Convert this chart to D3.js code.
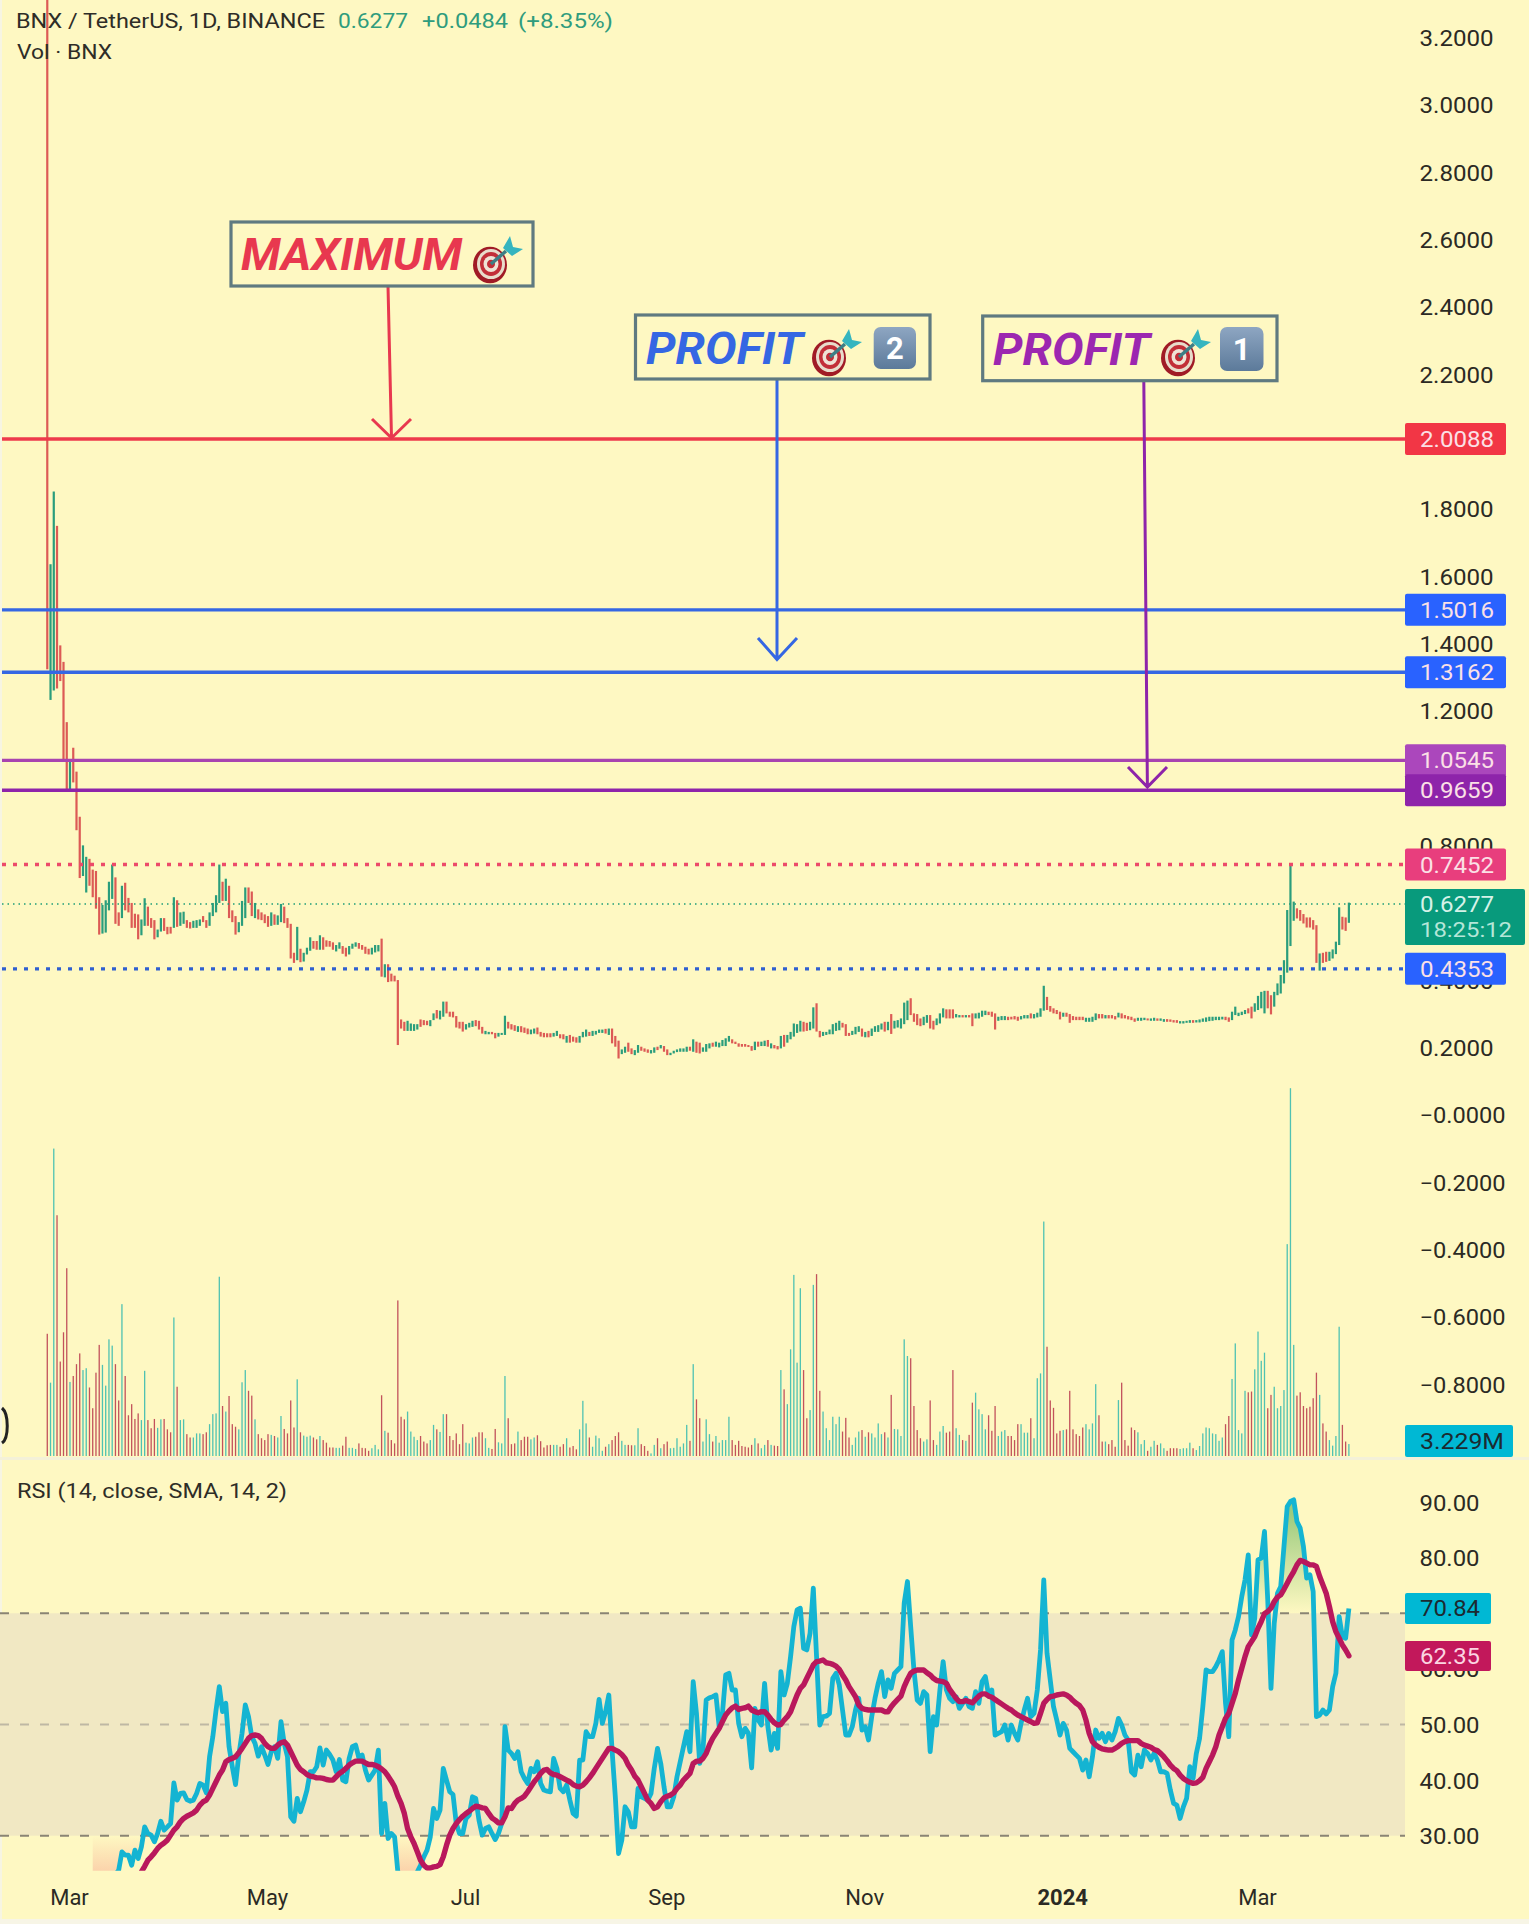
<!DOCTYPE html>
<html><head><meta charset="utf-8">
<script src="https://cdn.jsdelivr.net/npm/d3@7/dist/d3.min.js"></script>
<style>html,body{margin:0;padding:0;background:#fef8c2}svg{display:block}text{font-family:Roboto,sans-serif}</style>
</head><body><svg id="c" width="1529" height="1924"></svg>
<script>
// ---- data ----
const firstDay = "2023-02-22";
const candleSides = ("rggrrrrgrr rggrrrrggg grrgrrrrrg grrrggrrrg rggrrgggrr ggggrgrrrg ggrrgrrrrg rggrrrrgrg ggrrgrrrrg grrgggrrrr " +
"gggrgrrrrr rggggrrrgg rggrrrrrrg ggrrrggrrg ggrrrgrrrg grrrrrggrr grrrgggrgg ggrgrrrggr rggrrrggrg rrggggggrg " +
"rrgggrgggg grrrrrrrgr ggrgrrgrgg gggrrggrrg gggggrrrgg grgrggggrg rgggggrrrr ggrrgggrrr ggrgrrgggg rrrgggrrrr " +
"gggrggggrr rrrgrrrrrr ggggrrgrrr grrrrrgggr ggrggrrrrg gggrgggggg gggrrggggg rrggggrrgg gggggrrrrr rrgrrggggr rg").replace(/ /g,"").split("");
const candleHigh = [
3.32,1.637,1.853,1.751,1.396,1.347,1.168,1.052,1.092,1.021,
.887,.802,.768,.762,.730,.726,.648,.625,.639,.694,
.745,.707,.603,.682,.691,.646,.631,.599,.597,.582,
.645,.620,.586,.580,.552,.586,.586,.560,.560,.648,
.639,.603,.605,.580,.574,.578,.580,.582,.592,.580,
.603,.631,.654,.745,.694,.703,.682,.609,.592,.574,
.637,.677,.677,.665,.631,.612,.603,.597,.592,.603,
.597,.594,.628,.620,.586,.569,.483,.560,.495,.483,
.498,.529,.518,.518,.535,.529,.520,.518,.514,.506,
.514,.503,.498,.503,.510,.514,.512,.506,.501,.495,
.498,.506,.506,.525,.449,.449,.421,.415,.402,.285,
.278,.281,.273,.271,.271,.285,.283,.281,.283,.303,
.313,.311,.338,.338,.308,.308,.295,.278,.278,.271,
.275,.281,.283,.281,.263,.251,.248,.248,.245,.245,
.245,.296,.278,.271,.268,.265,.265,.261,.258,.255,
.258,.261,.248,.245,.244,.244,.245,.251,.241,.241,
.236,.239,.234,.232,.236,.248,.255,.248,.251,.251,
.255,.255,.257,.258,.258,.236,.222,.196,.204,.216,
.199,.194,.209,.204,.199,.196,.194,.202,.204,.209,
.206,.196,.186,.192,.196,.199,.199,.204,.204,.226,
.219,.216,.202,.212,.214,.216,.219,.216,.224,.229,
.236,.226,.219,.214,.212,.212,.209,.206,.219,.219,
.219,.222,.224,.214,.209,.206,.236,.239,.239,.248,
.273,.271,.281,.278,.275,.278,.321,.333,.251,.248,
.248,.255,.271,.275,.281,.275,.271,.245,.251,.263,
.265,.258,.248,.251,.258,.265,.268,.273,.278,.278,
.301,.281,.283,.288,.335,.341,.348,.303,.301,.288,
.293,.298,.298,.281,.288,.303,.318,.315,.315,.315,
.301,.298,.298,.298,.298,.303,.303,.305,.311,.311,
.308,.308,.303,.293,.295,.295,.293,.293,.295,.293,
.295,.298,.298,.303,.301,.305,.318,.385,.352,.325,
.318,.313,.308,.305,.305,.301,.295,.293,.293,.293,
.290,.290,.293,.303,.301,.301,.298,.298,.298,.295,
.305,.303,.298,.295,.293,.288,.290,.290,.290,.288,
.288,.290,.288,.288,.286,.286,.285,.283,.283,.280,
.280,.281,.283,.283,.283,.285,.288,.291,.293,.293,
.293,.293,.293,.293,.291,.308,.323,.305,.308,.313,
.318,.323,.333,.355,.367,.370,.370,.357,.367,.392,
.417,.461,.610,.7452,.635,.615,.610,.598,.588,.588,
.580,.565,.481,.483,.486,.486,.493,.516,.618,.590,
.588,.632];
const candleLow = [
1.325,1.234,1.262,1.268,1.290,1.052,.967,.967,.989,.847,
.705,.711,.662,.682,.648,.614,.537,.540,.543,.609,
.643,.569,.563,.586,.609,.603,.557,.557,.523,.535,
.563,.563,.557,.523,.529,.546,.548,.538,.540,.557,
.560,.563,.569,.557,.555,.557,.557,.563,.574,.557,
.563,.592,.603,.631,.637,.637,.586,.574,.537,.544,
.563,.586,.631,.592,.586,.582,.580,.571,.560,.563,
.566,.566,.574,.571,.557,.466,.453,.461,.455,.457,
.478,.489,.495,.492,.492,.492,.501,.501,.492,.487,
.495,.480,.472,.478,.495,.501,.495,.492,.480,.478,
.478,.484,.487,.412,.410,.396,.398,.398,.209,.258,
.251,.251,.251,.251,.255,.263,.268,.268,.265,.283,
.288,.285,.293,.303,.293,.291,.261,.258,.249,.255,
.261,.263,.265,.255,.243,.241,.241,.241,.229,.234,
.239,.239,.258,.255,.251,.248,.247,.245,.241,.241,
.243,.241,.234,.232,.232,.232,.234,.236,.229,.226,
.216,.216,.219,.216,.216,.232,.234,.236,.236,.240,
.245,.245,.243,.239,.214,.204,.169,.182,.186,.189,
.182,.179,.186,.192,.189,.186,.184,.186,.194,.199,
.189,.179,.179,.184,.188,.189,.189,.189,.192,.189,
.186,.184,.189,.189,.199,.204,.204,.202,.206,.206,
.219,.214,.212,.204,.204,.204,.204,.192,.194,.204,
.206,.206,.204,.199,.199,.196,.199,.204,.216,.226,
.234,.245,.249,.249,.251,.253,.258,.249,.232,.236,
.239,.241,.241,.251,.253,.261,.236,.236,.239,.241,
.248,.234,.232,.232,.236,.248,.248,.255,.249,.253,
.242,.258,.261,.258,.271,.283,.298,.278,.268,.265,
.268,.275,.258,.255,.268,.273,.291,.288,.288,.288,
.291,.291,.291,.291,.291,.265,.288,.288,.293,.298,
.298,.293,.255,.281,.283,.283,.283,.285,.285,.281,
.285,.288,.288,.288,.288,.291,.293,.311,.313,.308,
.303,.301,.285,.293,.293,.275,.283,.283,.283,.283,
.278,.278,.278,.283,.288,.288,.288,.288,.288,.285,
.291,.288,.288,.285,.283,.278,.281,.281,.283,.283,
.281,.281,.281,.281,.278,.278,.278,.276,.275,.273,
.273,.275,.275,.275,.276,.276,.278,.278,.280,.281,
.283,.283,.285,.283,.278,.283,.298,.295,.298,.301,
.303,.288,.308,.313,.318,.303,.318,.300,.323,.357,
.362,.392,.424,.503,.578,.585,.578,.570,.558,.558,
.552,.453,.430,.453,.456,.459,.466,.479,.506,.552,
.548,.572];
const volumeM = [
33,19.8,83,65,25.5,33.4,50.7,20,21.6,24.8,
27.7,23.2,23.7,18.5,12.9,22.5,30,24.6,19,31.5,
29.8,24.8,15,41,21.6,11,14,10,11.5,9.7,
23,9.7,7.5,10,7.6,9.9,10,7.2,6.4,37.4,
18.7,9.7,9.9,5.9,5,5,6.1,6.1,5.9,6.4,
8.6,11.3,11.5,48.4,13.5,12,16.2,8.6,7.9,7.2,
19.9,23.2,17.6,16.3,9.9,5.9,4.8,4.3,5.9,5.7,
5.4,5,10.8,7.3,6.1,15,7.7,20.7,6.4,5.5,
5.2,5.5,5,4.5,5.4,4.3,3.6,2.3,2.3,2.2,
2.2,2.8,5.2,2.2,2.2,1.9,3.4,2.2,2.1,1.4,
2.1,3,1.8,16.4,6.8,6.3,4.3,3.4,42,10.6,
9.9,12,6.6,5.2,4.3,5.4,3.9,3.4,4.3,8.4,
7.2,6.5,11.3,11.3,5.4,4.3,6.1,3.2,8.6,3.6,
3.4,5,5.2,6.4,6.4,4.8,2.2,1.9,7.3,3.7,
3.4,21.6,10.2,3.2,3.4,6.6,4.3,5.2,5.2,4.5,
5,5.6,4,2.3,2.9,3,3,3,2.5,3.2,
4.8,2.3,2.7,1.8,7.2,14.9,8.8,5,2.5,5.5,
4.8,1.4,2.5,3.2,4.3,5.4,6.4,4.1,3,3,
2.9,2.9,7.5,3.2,2.7,1.4,.7,3,4.8,2.1,
3.2,3.9,2.1,2.2,4.8,2.5,3.4,8.4,4.1,24.8,
15.3,10.2,3.9,9.9,5.9,3.9,5.4,3.6,4.3,4.3,
10.6,4.3,3,4.1,2.7,2.5,2.3,3,4.8,3.4,
2.1,3,4.3,3,2.8,2.7,23.2,18,14,28.8,
48.9,25.2,45.3,23.2,10.2,12.4,46.2,49.1,17.6,12,
7.5,4.3,10.6,8.6,10.6,6.6,10.3,5,3,5,
6.6,7,5.2,6.4,6.1,5,8.8,5.9,6.4,5,
16.5,7.3,7.2,5.4,31.5,27,26.4,13.5,7,4.8,
3.9,4.5,15,4.3,3,6.6,8.1,6.3,6.6,23.2,
7.5,5.7,4.3,4.1,5.7,14.4,17.1,12.6,11.3,7.2,
11,6.8,13.5,5.4,6.6,7,5.4,5.4,4.3,8.6,
8.6,6.3,6.3,10.2,4.8,21,22.3,63.3,29.5,15,
13,6.1,6.8,7,7.2,17.6,7.2,5.9,5.4,7.7,
8.6,7.2,8.8,19.4,11,3.9,3.9,3.2,4.3,2.5,
15.1,19.8,4.3,2.8,7.7,7,6.4,3.2,4.3,1.4,
2.5,4.1,3,3.4,2.1,1.4,2.1,2.1,2.1,1.9,
2.1,2.1,3.6,2.1,1.6,2.7,6.1,7.7,7.5,6.1,
5.9,4.1,5,8.6,10.8,20.8,30.4,7,6.1,17.6,
17.2,17.4,23.4,33.6,25.7,27.9,12.9,16.5,18.7,12.9,
13.5,17.8,57.2,99.3,30,16.3,17.2,13.5,12.9,13.3,
15.6,22.5,16.5,8.8,6.6,4.3,2.8,5.4,34.9,8.4,
3.9,3.229];
const rsiStart = 14;
const rsiValues = [
22,21,20,21,20,21,
22,23,23.8,27.1,26.5,26.5,24.7,27.4,25.9,28,
31.6,30.4,30.1,28.9,30.4,32.6,31,31.6,32.2,39.5,
36.4,37.6,37.7,36.5,36.2,36.4,37.6,39.4,39.1,37.7,
44.2,47.8,52.6,56.8,52.3,53.8,46,42.4,39.2,44.5,
48.4,53.5,51.4,47.8,46.6,44.3,46,44.5,42.8,45.1,
46,43.9,50.5,46.6,44.2,33.4,32.6,36.7,34.3,36.1,
38.2,41.5,41.5,42.4,45.8,42.7,45.4,44.6,43.6,41.5,
43.7,40,39.7,43.9,46,46.3,44,44.5,41.8,40,
40.9,41.8,45.4,30.4,35.8,29.5,30.4,29.8,23.5,21.5,
20.5,21,22,22.5,23.5,24.7,26.2,27.4,29.8,34.9,
33.1,34.6,42.1,40,37.9,37.4,32.2,30.4,30.4,33.1,
33.7,37,36.7,32.8,30.1,31.3,31.6,30.4,29.3,30.4,
32.2,49.6,45.4,44.8,43.9,45.1,41.5,40.3,39.4,42.1,
41.5,43.3,39.4,38.2,38,37.9,43.9,42.1,38.5,37.9,
39.1,36.4,34,33.5,43.6,43.6,48.7,47.8,47.8,50.2,
54.5,50.2,52.3,55.3,45.4,37,26.8,29.2,35.2,34.3,
31.6,31.6,38.5,37,36.7,36.4,37.6,42.1,45.7,43,
38.8,35.2,35.2,37,40.6,43.3,46,48.7,45.1,57.7,
52,43,45.4,54.4,54.8,55,55.3,49.6,52,58.9,
59.2,56.2,56.2,50.2,47.8,49.3,48.4,42.2,52.9,50.8,
49.9,57.4,49.6,45.4,48.4,45.7,59.5,55.3,57.4,62.2,
67.6,70.6,70.9,63.7,63.4,66.4,74.5,62.2,49.9,51.4,
51.5,52,58.3,59.2,57.1,52.6,48.1,48.1,49.6,52.6,
54.7,49,49.6,47.2,51.4,54.7,57.4,59.5,55,58,
56.5,59.2,59.8,60.4,71.8,75.7,67.6,59.8,54.4,53.8,
55.9,55.3,45.1,51.4,49.9,56.2,61.3,56.2,54.7,54.1,
55,52.9,53.8,54.7,53.2,52.9,55.9,53.8,57.7,58.6,
55.3,56.2,48.1,48.4,48.7,49.9,47.2,49.9,48.4,47.2,
50.2,52.6,54.7,51.4,52,56.2,63.4,76,62.8,58,
53.2,50.8,48.1,50.2,49,45.7,45.1,44.5,43.9,41.8,
43.6,40.6,44.2,49,47.5,48.4,46.9,48.4,47.2,48.7,
51.1,49.9,48.1,47.2,41.5,40.9,44.5,42.4,45.4,44.8,
43.6,44.8,43.6,41.5,41.5,41.2,38.2,35.8,35.5,33.1,
35.2,36.7,42.4,40.3,44.8,47.5,53.2,59.8,59.5,59.5,
60.4,61.6,63.1,53.8,47.8,65.2,67,69.4,73,76,
80.5,66.1,69.1,79.6,79.9,84.7,72.4,56.5,68.2,73.6,
74.8,82,89.2,90.1,90.4,86.5,85.3,82,76.3,76.9,
73.9,51.4,51.7,52.6,51.9,52.6,56.8,59.2,69.4,65.8,
65.5,70.84];
const maStart = 27;
const rsiMaValues = [
22,22.3,23.5,
24.5,25.6,26.2,26.9,27.7,28.3,28.7,29.2,30.1,31,
31.6,32.5,33.1,33.5,33.8,34.1,34.6,35.5,36.1,36.4,
37.3,38.5,39.7,40.9,41.8,43.3,43.7,43.9,44.2,44.9,
45.7,46.6,47.5,48,48.1,48,47.5,46.6,46,45.7,
45.7,46.3,46.7,46.9,46.3,45.1,43.9,42.7,41.9,41.5,
41,40.7,40.6,40.4,40.4,40.3,40.1,40,40,40.6,
41.2,41.6,42.1,42.7,43.1,43.4,43.4,43.4,43.1,42.8,
42.8,42.7,42.4,42,41.5,40.7,39.8,38.8,37.1,35.8,
34,31.3,29.8,28.6,27.1,25.6,24.7,24.2,24.2,24.4,
24.5,24.8,26.2,28.3,30.1,31.3,32.2,32.9,33.5,34,
34.4,34.9,35.3,35.2,35,34.9,34,33.2,32.8,32.3,
32.3,33.4,35,34.9,35.8,36.4,36.7,37.1,37.9,38.8,
39.7,40.4,41.2,41.8,41.9,41.3,41,40.9,40.6,40.3,
40,39.7,39.2,38.9,38.8,39.1,39.7,40.4,41.2,42.1,
43,43.9,44.8,45.7,45.7,45.4,45.1,44.6,43.9,42.7,
41.8,40.7,40,38.8,37.6,36.4,35.8,34.9,35.2,36.1,
36.8,37.1,37.3,37.7,38.5,39.1,40,40.6,41.2,43,
43.4,43.4,43.9,44.8,46.3,47.5,48.4,49.3,50.5,51.7,
52.4,53,53.3,52.7,52.9,53,53.3,52.6,52.3,52.1,
52.3,52.3,51.7,50.9,50.3,49.9,50,50.8,51.4,52.3,
53.8,55.3,56.5,57.1,58.3,59.5,60.7,61.3,61.4,61.6,
61.1,61,60.8,60.5,59.9,58.9,58,56.8,55.9,55,
53.5,52.9,52.7,52.6,52.6,52.6,52.6,52.6,52.3,52.3,
53.2,53.9,54.5,55.1,56.8,58.1,59.2,59.6,59.8,59.8,
59.8,59.3,58.9,58.3,57.9,57.8,57.7,57.4,56.3,55.5,
54.7,54.1,54.1,54.3,54.1,53.9,54.5,55.1,55.5,55.5,
55.1,54.9,54.5,54.1,53.7,53.3,52.9,52.6,52.1,51.7,
51.4,51.1,50.8,50.5,50.2,50.3,52,53.8,54.5,55,
55.1,55.3,55.4,55.5,55.3,54.9,54.3,53.8,53.4,52.6,
50.8,48.4,46.9,46.3,45.9,45.6,45.5,45.4,45.4,45.7,
46.1,46.6,46.9,47.1,47.1,47.1,47.1,46.6,46.3,46.1,
45.9,45.5,45.3,44.8,44.2,43.5,42.7,42.1,41.7,40.9,
40.3,39.9,39.6,39.4,39.5,39.9,40.5,42.1,43.3,44.5,
46,48.1,49.6,51.1,52,53.8,55.6,58,60.1,62.2,
64,64.9,65.8,67.3,68.5,69.9,70.3,70.9,72.1,72.9,
73.3,74.3,75.4,76.5,77.5,78.7,79.5,79.3,79,78.7,
78.7,78.4,76.6,75.1,73.6,71.2,68.5,66.7,65.5,64.3,
63.4,62.35];
// ticks that the reference shows (2.0, 1.0, 0.6 and 70 are fully hidden there by value boxes)
const priceTicks = [3.2,3,2.8,2.6,2.4,2.2,1.8,1.6,1.4,1.2,.8,.4,.2,0,-.2,-.4,-.6,-.8];
const rsiTicks = [90,80,60,50,40,30];
const monthTicks = ["2023-03-01","2023-05-01","2023-07-01","2023-09-01","2023-11-01","2024-01-01","2024-03-01"];
const monthLabels = ["Mar","May","Jul","Sep","Nov","2024","Mar"];
const levelValues = [2.0088,1.5016,1.3162,1.0545,.9659,.7452,.4353];
const levelColors = ["#ee3a4b","#3567e3","#3567e3","#a844b0","#8e24aa","#ec4a6a","#2f5fd0"];
const boxColors = ["#f23645","#2962ff","#2962ff","#ab47bc","#8e24aa","#e83e7d","#2962ff"];
const lastPrice = 0.6277;
const lastRsi = 70.84, lastMa = 62.35;

const N = candleHigh.length;
if (N!==402||candleLow.length!==402||volumeM.length!==402||candleSides.length!==402||rsiValues.length!==402-rsiStart||rsiMaValues.length!==402-maStart)
  throw new Error(["lengths",N,candleLow.length,volumeM.length,candleSides.length,rsiValues.length,rsiMaValues.length].join(" "));

// ---- scales ----
const W=1529,H=1924,plotR=1405;
const parse=d3.utcParse("%Y-%m-%d");
const x=d3.scaleUtc().domain([parse("2023-03-01"),parse("2024-03-01")]).range([70,1258]);
const yP=d3.scaleLinear().domain([3.2,0]).range([38,1115.4]);
const yV=d3.scaleLinear().domain([0,100]).range([1456,1085.6]);
const yR=d3.scaleLinear().domain([30,90]).range([1835.7,1502]);
const dayOf=i=>d3.utcDay.offset(parse(firstDay),i);
const bars=d3.range(N).map(i=>({i,d:dayOf(i),hi:candleHigh[i],lo:candleLow[i],side:candleSides[i],v:volumeM[i]}));
const rsi=rsiValues.map((v,k)=>({d:dayOf(k+rsiStart),v}));
const ma=rsiMaValues.map((v,k)=>({d:dayOf(k+maStart),v}));

const svg=d3.select("#c");
const defs=svg.append("defs");
defs.append("clipPath").attr("id","rsiClip").append("rect").attr("x",0).attr("y",1460).attr("width",plotR).attr("height",1870.7-1460);
const gO=defs.append("linearGradient").attr("id","osFill").attr("gradientUnits","userSpaceOnUse").attr("x1",0).attr("x2",0).attr("y1",yR(30)).attr("y2",1871);
gO.append("stop").attr("offset",0).attr("stop-color","#fbd3ab").attr("stop-opacity",0);
gO.append("stop").attr("offset",1).attr("stop-color","#fbd3ab").attr("stop-opacity",1);
const gB=defs.append("linearGradient").attr("id","obFill").attr("gradientUnits","userSpaceOnUse").attr("x1",0).attr("x2",0).attr("y1",yR(70)).attr("y2",yR(88));
gB.append("stop").attr("offset",0).attr("stop-color","#9ccb7e").attr("stop-opacity",0);
gB.append("stop").attr("offset",1).attr("stop-color","#9ccb7e").attr("stop-opacity",1);
const kc=defs.append("linearGradient").attr("id","keycap").attr("x1",0).attr("x2",0).attr("y1",0).attr("y2",1);
kc.append("stop").attr("offset",0).attr("stop-color","#8ea6c2");
kc.append("stop").attr("offset",1).attr("stop-color","#5c7a9a");

// background
svg.append("rect").attr("width",W).attr("height",H).attr("fill","#fef8c2");
svg.append("rect").attr("width",2).attr("height",H).attr("fill","#f7f5e2");
svg.append("rect").attr("x",0).attr("y",1457).attr("width",W).attr("height",3).attr("fill","#f4f1d8");
svg.append("rect").attr("x",0).attr("y",1919).attr("width",W).attr("height",5).attr("fill","#f7f5e6");

// volume
const volColor={g:"#4fc2b2",r:"#c2525c"};
svg.append("g").selectAll("rect").data(bars).join("rect")
  .attr("x",d=>x(d.d)-.65).attr("width",1.3)
  .attr("y",d=>yV(d.v)).attr("height",d=>yV(0)-yV(d.v))
  .attr("fill",d=>volColor[d.side]);

// candles
const candColor={g:"#2a9d7c",r:"#dc5a55"};
svg.append("g").selectAll("rect").data(bars).join("rect")
  .attr("x",d=>x(d.d)-1.1).attr("width",2.2)
  .attr("y",d=>yP(d.hi)).attr("height",d=>Math.max(2,yP(d.lo)-yP(d.hi)))
  .attr("fill",d=>candColor[d.side]);

// level lines
levelValues.forEach((v,k)=>{
  const dotted=k>=5;
  svg.append("line").attr("x1",2).attr("x2",plotR).attr("y1",yP(v)).attr("y2",yP(v))
    .attr("stroke",levelColors[k]).attr("stroke-width",3.4)
    .attr("stroke-dasharray",dotted?"4 7":null);
});
svg.append("line").attr("x1",2).attr("x2",plotR).attr("y1",yP(lastPrice)).attr("y2",yP(lastPrice))
  .attr("stroke","#1f9c78").attr("stroke-width",1.5).attr("stroke-dasharray","1.5 4");

// axes
const fmtP=v=>(v<=0?"\u2212":"")+Math.abs(v).toFixed(4);
const gP=svg.append("g").attr("transform","translate(1419.5,0.5)")
  .call(d3.axisRight(yP).tickValues(priceTicks).tickSize(0).tickPadding(0).tickFormat(fmtP));
gP.select(".domain").remove();
gP.selectAll("text").attr("font-size",22).style("font-family","Roboto").attr("fill","#2b2a24")
  .attr("textLength",d=>d<=0?86:74).attr("lengthAdjust","spacingAndGlyphs");

const gR=svg.append("g").attr("transform","translate(1419.5,1)")
  .call(d3.axisRight(yR).tickValues(rsiTicks).tickSize(0).tickPadding(0).tickFormat(d=>d.toFixed(2)));
gR.select(".domain").remove();
gR.selectAll("text").attr("font-size",22).style("font-family","Roboto").attr("fill","#2b2a24")
  .attr("textLength",60).attr("lengthAdjust","spacingAndGlyphs");

const gT=svg.append("g").attr("transform","translate(-1,1889)")
  .call(d3.axisBottom(x).tickValues(monthTicks.map(parse)).tickSize(0).tickPadding(0).tickFormat((d,i)=>monthLabels[i]));
gT.select(".domain").remove();
gT.selectAll("text").attr("font-size",22).style("font-family","Roboto").attr("fill","#2b2a24")
  .attr("font-weight",(d,i)=>monthLabels[i]==="2024"?700:400);

// RSI band and reference lines
svg.append("rect").attr("x",0).attr("y",yR(70)).attr("width",plotR).attr("height",yR(30)-yR(70)).attr("fill","#f1e8c3");
[[70,"#8a8474"],[50,"#bfb8a4"],[30,"#8a8474"]].forEach(([v,c])=>{
  svg.append("line").attr("x1",0).attr("x2",plotR).attr("y1",yR(v)).attr("y2",yR(v))
   .attr("stroke",c).attr("stroke-width",2).attr("stroke-dasharray","9 11");
});
const gRsi=svg.append("g").attr("clip-path","url(#rsiClip)");
gRsi.append("path").datum(rsi).attr("fill","url(#osFill)")
  .attr("d",d3.area().x(d=>x(d.d)).y0(yR(30)).y1(d=>yR(Math.min(d.v,30))));
gRsi.append("path").datum(rsi).attr("fill","url(#obFill)")
  .attr("d",d3.area().x(d=>x(d.d)).y0(yR(70)).y1(d=>yR(Math.max(d.v,70))));
const lineR=d3.line().x(d=>x(d.d)).y(d=>yR(d.v));
gRsi.append("path").datum(rsi).attr("d",lineR).attr("fill","none").attr("stroke","#14b4d2").attr("stroke-width",4.8).attr("stroke-linejoin","round");
gRsi.append("path").datum(ma).attr("d",lineR).attr("fill","none").attr("stroke","#b9185c").attr("stroke-width",5.4).attr("stroke-linejoin","round").attr("stroke-linecap","round");

// legends
const tx=(s,px,py,fs,fill,len)=>svg.append("text").attr("x",px).attr("y",py).attr("font-size",fs).attr("fill",fill)
  .attr("textLength",len||null).attr("lengthAdjust","spacingAndGlyphs").text(s);
tx("BNX / TetherUS, 1D, BINANCE",16,28,21,"#2e2d27",309);
tx("0.6277",338,28,21,"#2f9c7d",70);
tx("+0.0484",422,28,21,"#2f9c7d",86);
tx("(+8.35%)",518,28,21,"#2f9c7d",95);
tx("Vol \u00b7 BNX",17,59,21,"#2e2d27",95);
tx("RSI (14, close, SMA, 14, 2)",17,1498,21,"#2e2d27",270);

// small dark bracket at left edge of volume pane
svg.append("path").attr("d","M2,1408 C9,1414 9,1438 2,1443").attr("fill","none").attr("stroke","#222").attr("stroke-width",3);

// annotations
function target(cx,cy){
  const g=svg.append("g").attr("transform",`translate(${cx},${cy})`);
  [[17,"#a01b26"],[14,"#e8dccb"],[11,"#c22e38"],[7.5,"#efe3d6"],[4,"#c22e38"]].forEach(([r,c])=>
    g.append("ellipse").attr("cx",r===17?-1:0).attr("cy",r===17?1:0).attr("rx",r).attr("ry",r*1.08).attr("fill",c));
  g.append("path").attr("d","M0,0L15,-13").attr("stroke","#3d7f86").attr("stroke-width",3.5);
  g.append("path").attr("d","M12,-16L19,-28L22,-17L32,-15L21,-8Z").attr("fill","#35b5bf");
}
function keycap(x0,y0,w,h,s){
  svg.append("rect").attr("x",x0).attr("y",y0).attr("width",w).attr("height",h).attr("rx",7).attr("fill","url(#keycap)");
  svg.append("text").attr("x",x0+w/2).attr("y",y0+h/2+11).attr("text-anchor","middle").attr("font-size",31).attr("font-weight",700).attr("fill","#fff").text(s);
}
function callout(bx0,by0,bx1,by1,label,tx0,tlen,base,color){
  svg.append("rect").attr("x",bx0).attr("y",by0).attr("width",bx1-bx0).attr("height",by1-by0)
    .attr("fill","none").attr("stroke","#5f7a80").attr("stroke-width",3.2);
  svg.append("text").attr("x",tx0).attr("y",base).attr("font-size",44).attr("font-weight",700).attr("font-style","italic")
    .attr("fill",color).attr("textLength",tlen).attr("lengthAdjust","spacingAndGlyphs").text(label);
}
function arrow(x0,y0,x1,y1,hx0,hx1,hy,color){
  svg.append("path").attr("d",`M${x0},${y0}L${x1},${y1}M${hx0},${hy}L${x1},${y1}L${hx1},${hy}`)
    .attr("fill","none").attr("stroke",color).attr("stroke-width",3);
}
arrow(388,286,391.5,438,372,411,419,"#e8384f");
arrow(777,379,777,659.6,758,797,638,"#3567e3");
arrow(1143.8,380,1147.4,787,1128,1167,767,"#8e24aa");
callout(231,222,533,286,"MAXIMUM",241,221,270,"#e8384f");
target(491,264);
callout(635.5,315,930,379,"PROFIT",646,157,364,"#3567e3");
target(830,357);
keycap(873.7,327,42.3,42,"2");
callout(982.7,316,1277,380.7,"PROFIT",993,157,365,"#9c27b0");
target(1179,357);
keycap(1220,327,43.5,44,"1");

// right-hand value boxes
const label=(yc,h,w,bg,fg,s)=>{
  svg.append("rect").attr("x",plotR).attr("y",yc-h/2).attr("width",w).attr("height",h).attr("rx",2).attr("fill",bg);
  svg.append("text").attr("x",1420).attr("y",yc+8).attr("font-size",22).attr("fill",fg)
    .attr("textLength",74).attr("lengthAdjust","spacingAndGlyphs").text(s);
};
levelValues.forEach((v,k)=>label(yP(v),32,101,boxColors[k],"#fbe0e6",v.toFixed(4)));
// current price
svg.append("rect").attr("x",plotR).attr("y",889).attr("width",120).attr("height",56).attr("rx",2).attr("fill","#089a7c");
svg.append("text").attr("x",1420).attr("y",912).attr("font-size",22).attr("fill","#d6f2e8").attr("textLength",74).attr("lengthAdjust","spacingAndGlyphs").text(lastPrice.toFixed(4));
svg.append("text").attr("x",1420).attr("y",937).attr("font-size",21).attr("fill","#b5e6d8").attr("textLength",92).attr("lengthAdjust","spacingAndGlyphs").text("18:25:12");
// volume box
svg.append("rect").attr("x",plotR).attr("y",1425).attr("width",108).attr("height",32).attr("rx",2).attr("fill","#00b8d4");
svg.append("text").attr("x",1420).attr("y",1449).attr("font-size",22).attr("fill","#1c2a30").attr("textLength",84).attr("lengthAdjust","spacingAndGlyphs").text("3.229M");
// RSI boxes
svg.append("rect").attr("x",plotR).attr("y",1593).attr("width",86).attr("height",31).attr("rx",2).attr("fill","#00b8d4");
svg.append("text").attr("x",1420).attr("y",1616).attr("font-size",22).attr("fill","#1c2a30").attr("textLength",60).attr("lengthAdjust","spacingAndGlyphs").text(lastRsi.toFixed(2));
svg.append("rect").attr("x",plotR).attr("y",1641).attr("width",86).attr("height",30).attr("rx",2).attr("fill","#c2185b");
svg.append("text").attr("x",1420).attr("y",1664).attr("font-size",22).attr("fill","#fbd5e2").attr("textLength",60).attr("lengthAdjust","spacingAndGlyphs").text(lastMa.toFixed(2));
</script>
</body></html>
